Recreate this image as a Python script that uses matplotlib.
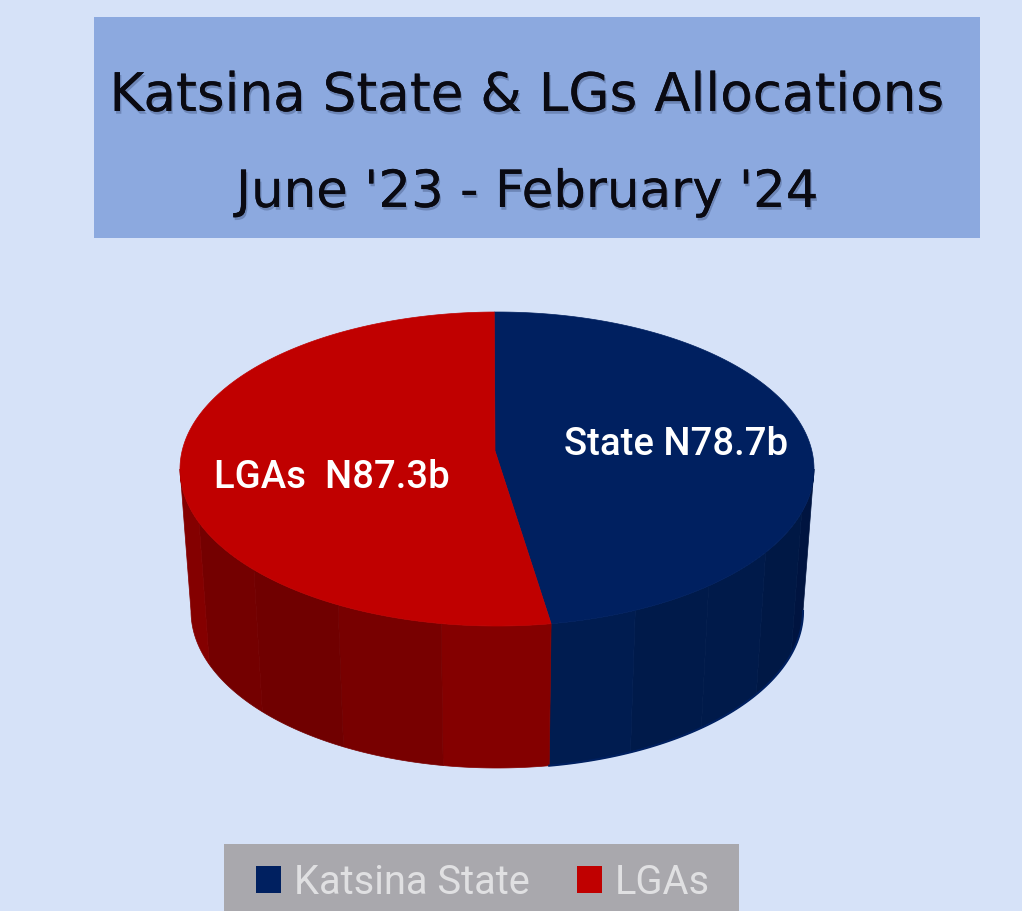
import numpy as np
import matplotlib
matplotlib.use('Agg')
import matplotlib.pyplot as plt
from matplotlib.patches import Polygon, Rectangle, Patch
import matplotlib.patheffects as pe

## DATA
names = ['Katsina State', 'LGAs']
values = [78.7, 87.3]
slice_labels = ['State N78.7b', 'LGAs  N87.3b']
title_lines = ['Katsina State & LGs Allocations', "June '23 - February '24"]

## COLOURS
bg = '#D6E2F8'
top_colors = ['#002060', '#C00000']
side_colors = [['#001440', '#001845', '#001A4A', '#001A4A', '#001C50'],
               ['#840000', '#780000', '#700000', '#740000', '#840000']]

fig = plt.figure(figsize=(10.22, 9.12), dpi=100, facecolor=bg)
ax = fig.add_axes([0, 0, 1, 1])
ax.set_xlim(0, 1022)
ax.set_ylim(912, 0)
ax.axis('off')

# header box
ax.add_patch(Rectangle((94, 18), 886, 221, fc='#8CA9DF', ec='none'))
shadow = [pe.withSimplePatchShadow(offset=(1, -2), shadow_rgbFace='#34466E', alpha=0.35), pe.Normal()]
for line, y, size in zip(title_lines, [97, 194], [38.3, 37]):
    ax.text(527, y, line, ha='center', va='center', fontsize=size, color='#0A0A12',
            family='DejaVu Sans', path_effects=shadow)

# pie geometry, pixels. angle runs clockwise from 12 o'clock
cx, cy_top, rx_top, ry_top = 497, 470, 317, 157
cy_bot, rx_bot, ry_bot = 612, 306, 157
hub = (495, 452)
start = np.deg2rad(-0.5)


def top_arc(t):
    return np.column_stack([cx + rx_top * np.sin(t), cy_top - ry_top * np.cos(t)])


def bot_arc(t):
    return np.column_stack([cx + rx_bot * np.sin(t), cy_bot - ry_bot * np.cos(t)])


edges = start + np.concatenate([[0], np.cumsum(values)]) / sum(values) * 2 * np.pi

# side wall, only the front half shows
for i in range(len(values)):
    lo = max(edges[i], np.pi / 2)
    hi = min(edges[i + 1], 3 * np.pi / 2)
    bands = np.linspace(lo, hi, len(side_colors[i]) + 1)
    for j, col in enumerate(side_colors[i]):
        t = np.linspace(bands[j], bands[j + 1], 40)
        pts = np.vstack([top_arc(t), bot_arc(t)[::-1]])
        ax.add_patch(Polygon(pts, closed=True, fc=col, ec=col, lw=0.5))
    if i == 0:
        # lighter rim along the bottom of the navy side
        t = np.linspace(lo, hi, 80)
        rim = bot_arc(t)
        ax.plot(rim[:, 0], rim[:, 1], color='#002060', lw=1.5)

# top face
for i in range(len(values)):
    t = np.linspace(edges[i], edges[i + 1], 200)
    pts = np.vstack([[hub], top_arc(t)])
    ax.add_patch(Polygon(pts, closed=True, fc=top_colors[i], ec=top_colors[i], lw=0.5))

ax.text(676, 445, slice_labels[0], ha='center', va='center', fontsize=27.5, color='white',
        family='Roboto', weight='medium')
ax.text(332, 478, slice_labels[1], ha='center', va='center', fontsize=27.5, color='white',
        family='Roboto', weight='medium')

# legend
handles = [Patch(fc=c, ec='none') for c in top_colors]
ax.add_patch(Rectangle((224, 845), 515, 67, fc='#A9A8AD', ec='none'))
leg = ax.legend(handles, names, ncol=2, loc='center', bbox_to_anchor=(483, 883),
                bbox_transform=ax.transData, frameon=False, labelcolor='#E0E0E2',
                handlelength=0.63, handleheight=0.63, handletextpad=0.33, columnspacing=1.18,
                prop={'family': 'Roboto', 'size': 28.7})

fig.savefig('out.png', dpi=100, facecolor=bg)
